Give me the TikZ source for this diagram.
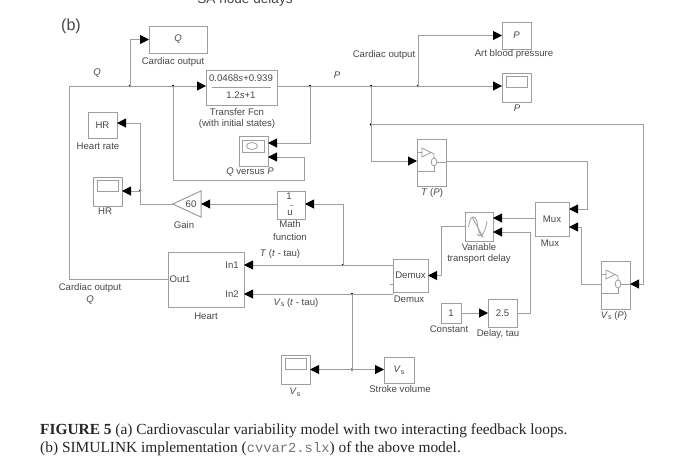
\documentclass[tikz,border=0pt]{standalone}
\usepackage{fontspec}
\setmainfont{Liberation Sans}
\newfontfamily\capserif{Liberation Serif}
\newfontfamily\capmono{Liberation Mono}
\usetikzlibrary{arrows.meta,calc}
\definecolor{wirec}{gray}{0.62}
\definecolor{textc}{gray}{0.28}
\tikzset{
  blk/.style={draw=wirec,line width=1pt,rectangle,inner sep=0pt,outer sep=0pt,text=textc,font=\fontsize{9.6}{11}\selectfont,align=center},
  lab/.style={inner sep=0pt,text=textc,font=\fontsize{9.6}{11}\selectfont,align=center},
  w/.style={draw=wirec,line width=1pt},
  a/.style={w,-{Triangle[length=9pt,width=9pt,color=black,fill=black]}},
  dot/.style={circle,fill=black,inner sep=0pt,minimum size=2.6pt,outer sep=0pt},
  glyph/.style={draw=wirec,line width=.8pt},
  caption/.style={inner sep=0pt,anchor=base west,text=black!85,font=\capserif\fontsize{15.4}{17}\selectfont}
}
\newcommand{\blk}[6]{\node[blk,minimum width={(#4-#2)*1pt},minimum height={(#5-#3)*1pt}] (#1) at ({(#2+#4)/2},{(#3+#5)/2}) {#6};}
\newcommand{\scopeglyph}[1]{\draw[glyph] ([shift={(4pt,-3.5pt)}]#1.north west) rectangle ([shift={(-4pt,-14pt)}]#1.north east);}
\newcommand{\lookupglyph}[1]{%
  \draw[glyph] ([shift={(0pt,-13.5pt)}]#1.north west) -- ([shift={(5pt,-13.5pt)}]#1.north west);
  \draw[glyph] ([shift={(5pt,-9pt)}]#1.north west) -- ([shift={(5pt,-18pt)}]#1.north west) -- ([shift={(14pt,-13.5pt)}]#1.north west) -- cycle;
  \draw[glyph] ([shift={(14pt,-13.5pt)}]#1.north west) -- ([shift={(17pt,-15pt)}]#1.north west) -- ([shift={(17pt,-19pt)}]#1.north west);
  \draw[glyph] ([shift={(17pt,-23pt)}]#1.north west) ellipse [x radius=2.8pt,y radius=4pt];
  \draw[glyph] ([shift={(17pt,-27pt)}]#1.north west) -- ([shift={(17pt,-32pt)}]#1.north west) -- ([shift={(0pt,-32pt)}]#1.north west);
  \draw[glyph] ([shift={(19.8pt,-23pt)}]#1.north west) -- ([shift={(29pt,-23pt)}]#1.north west);}
\begin{document}
\begin{tikzpicture}[x=1pt,y=-1pt]
\clip (0,0) rectangle (700,463);
\fill[white] (0,0) rectangle (700,463);

% blocks
\blk{qb}{149}{26}{207}{53}{\textit{Q}}
\blk{tf}{206}{70}{277}{105}{}
\blk{hrd}{88}{112}{117}{138}{HR}
\blk{hrs}{93}{177}{122}{206}{}
\blk{qvp}{239}{136}{268}{166}{}
\blk{math}{277}{191}{305}{219}{}
\blk{art}{502}{22}{531}{49}{\textit{P}}
\blk{ps}{502}{73}{531}{102}{}
\blk{tp}{417}{139}{446}{186}{}
\blk{mux}{535}{202}{569}{236}{Mux}
\blk{vd}{465}{212}{493}{241}{}
\blk{demux}{393}{259}{428}{292}{Demux}
\blk{heart}{168}{252}{244}{307}{}
\blk{const}{441}{303}{461}{323}{1}
\blk{delay}{488}{299}{517}{327}{2.5}
\blk{vsp}{601}{261}{630}{309}{}
\blk{vss}{281}{355}{310}{384}{}
\blk{svol}{384}{357}{414}{383}{\textit{V}\raisebox{-1.5pt}{\fontsize{7}{7}\selectfont s}}
\node[lab,minimum width=28pt,minimum height=26pt] (gain) at (187,204) {};
\draw[w] (gain.west) -- (gain.north east) -- (gain.south east) -- cycle;

% block contents
\node[lab] (tfn) at (241,78) {0.0468\textit{s}+0.939};
\node[lab] (tfd) at (241,95) {1.2\textit{s}+1};
\draw[draw=wirec,line width=.6pt] ([shift={(6pt,0pt)}]tf.west) -- ([shift={(-6pt,0pt)}]tf.east);
\scopeglyph{hrs}
\scopeglyph{ps}
\scopeglyph{vss}
\draw[glyph] ([shift={(3pt,-4pt)}]qvp.north west) rectangle ([shift={(-4pt,-16pt)}]qvp.north east);
\draw[glyph] ([shift={(13pt,-10pt)}]qvp.north west) ellipse [x radius=5.5pt,y radius=3.5pt];
\node[lab] (gv) at (191,204) {60};
\node[lab] (m1) at (289,196.5) {1};
\draw[glyph] ([shift={(-1.5pt,0pt)}]math.center) -- ([shift={(1.5pt,0pt)}]math.center);
\node[lab] (m3) at (290,213) {u};
\node[lab] (in1) at (232,265) {In1};
\node[lab] (in2) at (232,294) {In2};
\node[lab] (out1) at (180,279.5) {Out1};
\lookupglyph{tp}
\lookupglyph{vsp}
\draw[glyph] ([shift={(3.5pt,-15pt)}]vd.north west) .. controls ([shift={(5pt,-3pt)}]vd.north west) and ([shift={(10pt,-2pt)}]vd.north west) .. ([shift={(12pt,-10pt)}]vd.north west) .. controls ([shift={(13pt,-17pt)}]vd.north west) and ([shift={(15pt,-25pt)}]vd.north west) .. ([shift={(18pt,-25pt)}]vd.north west);
\draw[glyph] ([shift={(7pt,-5pt)}]vd.north west) -- ([shift={(18pt,-25pt)}]vd.north west);
\draw[glyph] ([shift={(12pt,-22pt)}]vd.north west) .. controls ([shift={(14pt,-26pt)}]vd.north west) and ([shift={(20pt,-24pt)}]vd.north west) .. ([shift={(22pt,-9pt)}]vd.north west);

% labels
\node[lab,font=\fontsize{16}{18}\selectfont] (blab) at (71,26) {(b)};
\node[lab,anchor=base,font=\fontsize{13.6}{15}\selectfont] (sa) at (245,3) {SA node delays};
\node[lab] (l1) at (97,73) {\textit{Q}};
\node[lab] (l2) at (173,62) {Cardiac output};
\node[lab] (l3) at (237,112) {Transfer Fcn};
\node[lab] (l4) at (237,124) {(with initial states)};
\node[lab] (l5) at (98,146) {Heart rate};
\node[lab] (l6) at (105,211) {HR};
\node[lab] (l7) at (250,172) {\textit{Q} versus \textit{P}};
\node[lab] (l8) at (337,75) {\textit{P}};
\node[lab] (l9) at (384,55) {Cardiac output};
\node[lab] (l10) at (514,54) {Art blood pressure};
\node[lab] (l11) at (517,108) {\textit{P}};
\node[lab] (l12) at (432,193) {\textit{T} (\textit{P})};
\node[lab] (l13) at (184,225) {Gain};
\node[lab] (l14) at (290,224) {Math};
\node[lab] (l15) at (290,237) {function};
\node[lab] (l16) at (280,254) {\textit{T} (\textit{t} - tau)};
\node[lab] (l17) at (296,303) {\textit{V}\raisebox{-1.5pt}{\fontsize{7}{7}\selectfont s} (\textit{t} - tau)};
\node[lab] (l18) at (90,288) {Cardiac output};
\node[lab] (l19) at (90,300) {\textit{Q}};
\node[lab] (l20) at (206,316) {Heart};
\node[lab] (l21) at (295,392) {\textit{V}\raisebox{-1.5pt}{\fontsize{7}{7}\selectfont s}};
\node[lab] (l22) at (479,247) {Variable};
\node[lab] (l23) at (479,259) {transport delay};
\node[lab] (l24) at (409,299) {Demux};
\node[lab] (l25) at (449,329) {Constant};
\node[lab] (l26) at (498,334) {Delay, tau};
\node[lab] (l27) at (550,243) {Mux};
\node[lab] (l28) at (614,316) {\textit{V}\raisebox{-1.5pt}{\fontsize{7}{7}\selectfont s} (\textit{P})};
\node[lab] (l29) at (400,389) {Stroke volume};

% junctions and corners
\coordinate (c1) at (69,86);
\node[dot] (j1) at (130,86) {};
\node[dot] (j2) at (173,86) {};
\node[dot] (j3) at (310,86) {};
\node[dot] (j4) at (371,86) {};
\node[dot] (j5) at (418,86) {};
\node[dot] (j6) at (371,124.5) {};
\node[dot] (j7) at (140,191) {};
\node[dot] (j8) at (343,265) {};
\node[dot] (j9) at (352,294) {};
\node[dot] (j10) at (352,369.5) {};
\coordinate (c2) at (304,180);
\coordinate (c3) at (173,180);
\coordinate (c4) at (643,124.5);
\coordinate (c5) at (587,161);
\coordinate (c6) at (581,227);
\coordinate (c7) at (441,226.5);
\coordinate (c8) at (530,232);
\coordinate (c9) at (140,123);

% connectors
\draw[a] (heart.west) -| (c1) -- ([yshift=1.5pt]tf.west);
\draw[a] (j1.center) |- (qb.west);
\draw[a] ([yshift=1.5pt]tf.east) -- (ps.west |- j5);
\draw[a] (j3.center) |- ([yshift=8pt]qvp.east);
\draw[a] (j2.center) -- (c3) -- (c2) |- ([yshift=-6pt]qvp.east);
\draw[a] (j5.center) |- (art.west);
\draw[w] (j4.center) -- (j6.center);
\draw[a] (j6.center) |- ([yshift=1.5pt]tp.west);
\draw[a] (j6.center) -- (c4) |- ([yshift=1pt]vsp.east);
\draw[a] ([yshift=1.5pt]tp.east) -- (c5) |- ([yshift=10pt]mux.east);
\draw[a] ([yshift=1pt]vsp.west) -| (c6) -- ([yshift=-8pt]mux.east);
\draw[a] ([yshift=1pt]mux.west) -- ([yshift=8.5pt]vd.east);
\draw[a] (delay.east) -| (c8) -- ([yshift=-5.5pt]vd.east);
\draw[a] (const.east) -- (delay.west |- const.east);
\draw[a] (vd.west) -- (c7) |- (demux.east);
\draw[a] ([yshift=10.5pt]demux.west) -- ([yshift=14.5pt]heart.east);
\draw[w] ([shift={(-3.5pt,-8.5pt)}]demux.west) -- ([yshift=-8.5pt]demux.west) -- ([yshift=-18.5pt]demux.west);
\draw[a] ([yshift=-18.5pt]demux.west) -- ([yshift=-14.5pt]heart.east);
\draw[a] (j8.center) |- ([yshift=1pt]math.east);
\draw[a] ([yshift=1pt]math.west) -- (gain.east);
\draw[w] (gain.west) -| (c9);
\draw[a] (c9) -- (hrd.east |- c9);
\draw[a] (j7.center) -- (hrs.east |- j7);
\draw[w] (j9.center) -- (j10.center);
\draw[a] (j10.center) -- (vss.east |- j10);
\draw[a] (j10.center) -- (svol.west |- j10);

% caption
\node[caption] (cap1) at (40,434) {\textbf{FIGURE 5} (a) Cardiovascular variability model with two interacting feedback loops.};
\node[caption] (cap2) at (40,452) {(b) SIMULINK implementation ({\capmono\fontsize{13.8}{15}\selectfont\color{black!55}cvvar2.slx}) of the above model.};
\end{tikzpicture}
\end{document}
